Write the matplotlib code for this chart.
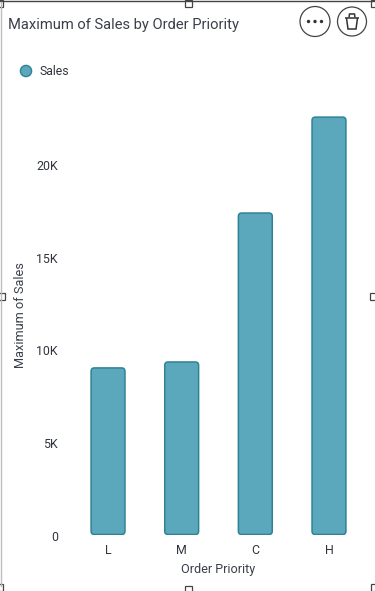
from matplotlib import pyplot as plt
from matplotlib.patches import FancyBboxPatch, Circle, Rectangle
from matplotlib.lines import Line2D
from matplotlib.path import Path
from matplotlib.patches import PathPatch
from matplotlib.transforms import ScaledTranslation

categories = ['L', 'M', 'C', 'H']
max_sales = [8980, 9300, 17330, 22500]
y_ticks = [0, 5000, 10000, 15000, 20000]
y_tick_labels = ['0', '5K', '10K', '15K', '20K']

W, H = 375, 591
FILL = '#5ba8bd'
EDGE = '#2f8296'
TEXT = '#3a3f4a'

plt.rcParams['font.family'] = ['Roboto', 'DejaVu Sans']

fig = plt.figure(figsize=(W / 100, H / 100), dpi=100)

# plot area, placed in pixels from the top left
left, right, top, bottom = 71.2, 365.8, 100, 534.5
ax = fig.add_axes([left / W, 1 - bottom / H, (right - left) / W, (bottom - top) / H])
ax.set_xlim(-0.5, 3.5)
ax.set_ylim(0, 23423)
ax.patch.set_alpha(0)
for s in ax.spines.values():
    s.set_visible(False)

bar_w = 0.46
# one x unit is 73.65 px and one y unit 0.01855 px
aspect = 73.65 / 0.01855
rx = 0.045
for i, v in enumerate(max_sales):
    p = FancyBboxPatch((i - bar_w / 2 + rx, rx * aspect), bar_w - 2 * rx, v - 2 * rx * aspect,
                       boxstyle=f'round,pad={rx},rounding_size={rx}',
                       mutation_aspect=aspect, facecolor=FILL, edgecolor=EDGE, linewidth=1.1)
    ax.add_patch(p)

ax.set_xticks(range(len(categories)))
ax.set_xticklabels(categories, fontsize=8.9, color='#30343c')
ax.set_yticks(y_ticks)
ax.set_yticklabels(y_tick_labels, fontsize=8.9, color='#30343c')
ax.tick_params(axis='both', length=0)
ax.tick_params(axis='x', pad=7)
ax.tick_params(axis='y', pad=9.5)
# labels sit a little below their gridline position
for lab in ax.get_yticklabels():
    lab.set_transform(lab.get_transform() + ScaledTranslation(0, -1.5 / 100, fig.dpi_scale_trans))

fig.text(218.5 / W, 1 - 569 / H, 'Order Priority', fontsize=9.1, color=TEXT, ha='center', va='center')
fig.text(21 / W, 1 - 315 / H, 'Maximum of Sales', fontsize=9.2, color=TEXT, ha='center', va='center', rotation=90)
fig.text(8 / W, 1 - 25.5 / H, 'Maximum of Sales by Order Priority', fontsize=10.6, color=TEXT, ha='left', va='center')
fig.text(39 / W, 1 - 71.5 / H, 'Sales', fontsize=8.8, color='#30343c', ha='left', va='center')

# overlay in pixel coordinates for legend dot, buttons and selection frame
ov = fig.add_axes([0, 0, 1, 1], zorder=5)
ov.set_xlim(0, W)
ov.set_ylim(H, 0)
ov.axis('off')
ov.set_aspect('equal')

ov.add_patch(Circle((26, 71), 5.6, facecolor=FILL, edgecolor=EDGE, linewidth=1))

# selection frame
ov.add_line(Line2D([0, W], [1.2, 1.2], color='#444444', linewidth=1))
ov.add_line(Line2D([0.7, 0.7], [2, 586], color='#bdbdbd', linewidth=1))
for x, y in [(-1, 3), (188, 3), (374, 3), (1, 296), (373, 296), (-1, 587), (188, 589), (374, 587)]:
    ov.add_patch(Rectangle((x - 3.5, y - 3.5), 7, 7, facecolor='white', edgecolor='#444444', linewidth=0.9))

# buttons
ov.add_patch(Circle((315, 21.5), 15, facecolor='white', edgecolor='#444444', linewidth=0.9))
ov.add_patch(Circle((352, 21.5), 14.5, facecolor='white', edgecolor='#444444', linewidth=0.9))
for dx in (-6.5, 0, 6.5):
    ov.add_patch(Circle((315 + dx, 21.5), 1.7, facecolor='#333333', edgecolor='none'))
# trash icon
can = Path([(346.5, 18), (348, 29), (356, 29), (357.5, 18)], [Path.MOVETO, Path.LINETO, Path.LINETO, Path.LINETO])
lid = Path([(345, 17.5), (359, 17.5)], [Path.MOVETO, Path.LINETO])
knob = Path([(349, 17.5), (349.5, 14), (354.5, 14), (355, 17.5)], [Path.MOVETO, Path.LINETO, Path.LINETO, Path.LINETO])
for path in (can, lid, knob):
    ov.add_patch(PathPatch(path, facecolor='none', edgecolor='#333333', linewidth=1.1))

fig.savefig('out.png', dpi=100)
